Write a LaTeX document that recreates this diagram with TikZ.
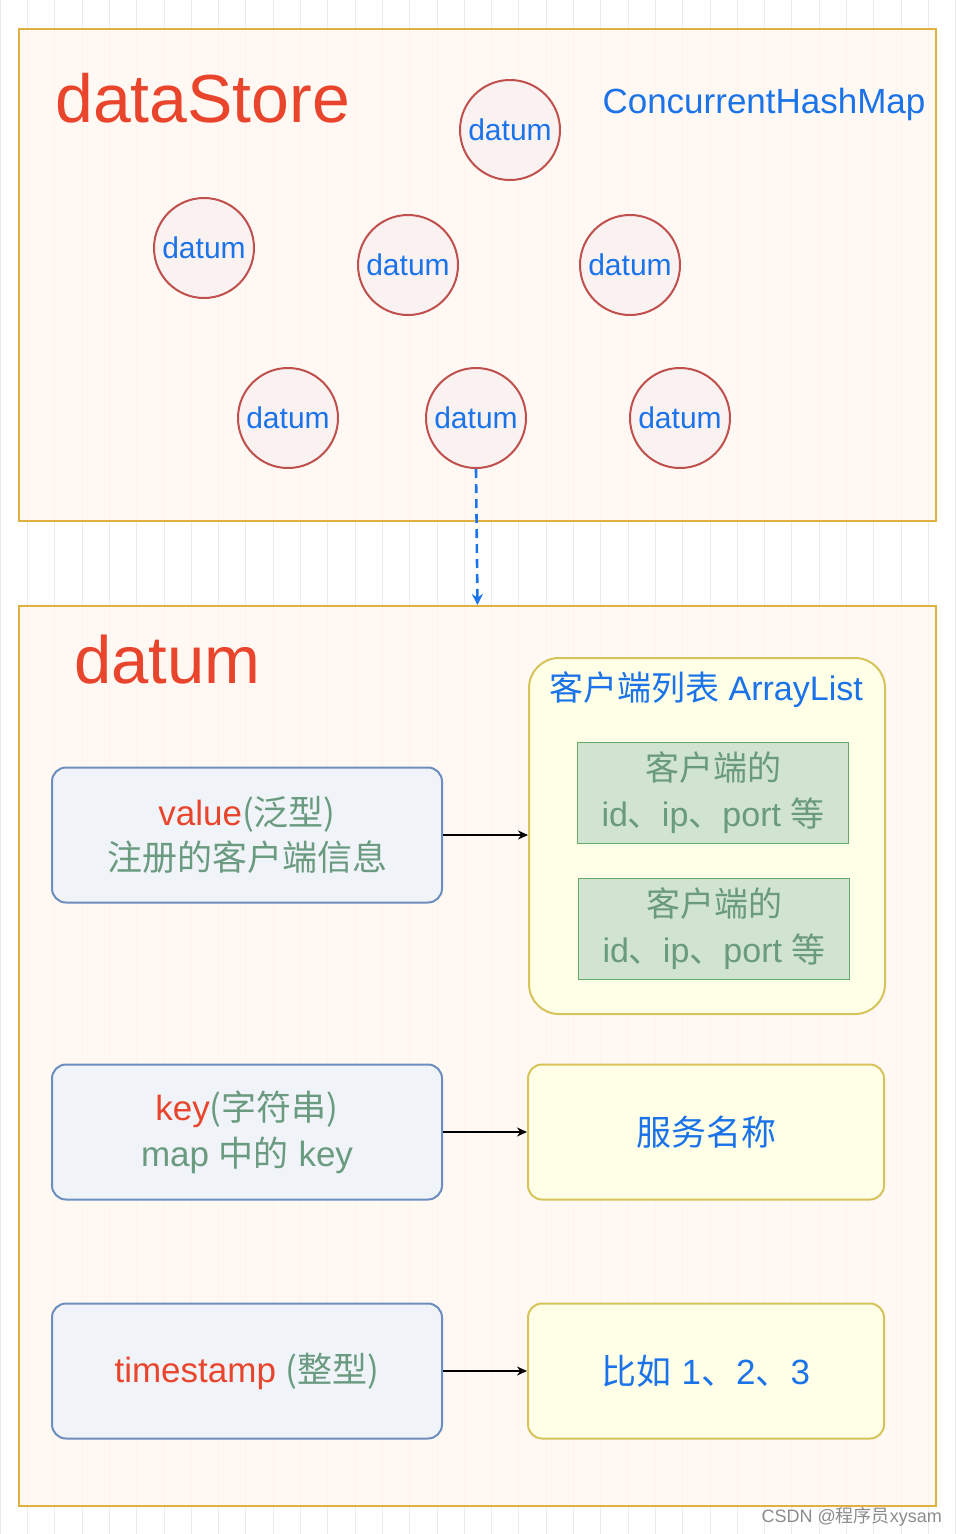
\documentclass[tikz,border=0pt]{standalone}
\usepackage{fontspec}
\setmainfont{Liberation Sans}
\newfontfamily\cjk{Noto Sans CJK SC}
\usetikzlibrary{arrows.meta}
\definecolor{redt}{HTML}{E8452C}
\definecolor{bluet}{HTML}{1A73E8}
\definecolor{greent}{HTML}{6A9A80}
\definecolor{circ}{HTML}{C0504D}
\definecolor{gold}{HTML}{E0B040}
\definecolor{ybord}{HTML}{D6C45A}
\definecolor{bbord}{HTML}{6C8EBF}
\tikzset{
 fs/.style={font=\fontsize{#1}{#1}\selectfont},
 dat/.style={circle,draw=circ,line width=2pt,fill=circ!8,minimum size=100pt,inner sep=0pt,text=bluet,fs=30},
 outer/.style={draw=gold,line width=2pt,fill=orange!6,fill opacity=0.8},
 lbox/.style={draw=bbord,line width=2pt,rounded corners=14pt,fill=bbord!10,minimum width=390pt,minimum height=135pt,align=center,text=greent,fs=35},
 ybox/.style={draw=ybord,line width=2pt,rounded corners=14pt,fill=yellow!10,minimum width=356pt,minimum height=135pt,align=center,text=bluet,fs=35},
 gbox/.style={draw=green!45!black!60,line width=1.6pt,fill=green!40!black!18,minimum width=271pt,minimum height=101pt,align=center,text=greent,fs=34},
 arr/.style={-{Stealth[open,length=10pt,width=9pt]},line width=1.6pt},
}
\begin{document}
\begin{tikzpicture}[x=1pt,y=-1pt]
\useasboundingbox (0,0) rectangle (956,1534);
\fill[white] (0,0) rectangle (956,1534);
\draw[black!8,line width=0.6pt,step=27.3] (0,0) grid (956,1534);
% top box
\node[outer,minimum width=917pt,minimum height=492pt,inner sep=0pt,anchor=north west] (store) at (18,28) {};
\node[anchor=west,text=redt,fs=68,inner sep=0pt] (tstore) at (55,98) {dataStore};
\node[text=bluet,fs=35,inner sep=0pt] (chm) at (764,104) {ConcurrentHashMap};
\node[dat] (d1) at (510,130) {datum};
\node[dat] (d2) at (204,248) {datum};
\node[dat] (d3) at (408,265) {datum};
\node[dat] (d4) at (630,265) {datum};
\node[dat] (d5) at (288,418) {datum};
\node[dat] (d6) at (476,418) {datum};
\node[dat] (d7) at (680,418) {datum};
% bottom box
\node[outer,minimum width=917pt,minimum height=900pt,inner sep=0pt,anchor=north west] (dbox) at (18,605) {};
\draw[bluet,line width=2.6pt,dash pattern=on 9pt off 6pt,-{Stealth[open,length=11pt,width=11pt]}] (d6.south) -- (dbox.north);
\node[anchor=west,text=redt,fs=67,inner sep=0pt] (tdat) at (74,660) {datum};
\node[draw=ybord,line width=2pt,rounded corners=30pt,fill=yellow!10,minimum width=356pt,minimum height=356pt,anchor=north west] (list) at (528,657) {};
\node[text=bluet,fs=34,inner sep=0pt] (ltitle) at (706,690) {{\cjk 客户端列表} ArrayList};
\node[gbox] (g1) at (713,793) {{\cjk 客户端的}\\[12pt]id{\cjk 、}ip{\cjk 、}port {\cjk 等}};
\node[gbox] (g2) at (714,929) {{\cjk 客户端的}\\[12pt]id{\cjk 、}ip{\cjk 、}port {\cjk 等}};
\node[lbox] (v) at (247,835) {\textcolor{redt}{value}{\cjk (泛型)}\\[8pt]{\cjk 注册的客户端信息}};
\node[lbox] (k) at (247,1132) {\textcolor{redt}{key}{\cjk (字符串)}\\[8pt]map {\cjk 中的} key};
\node[lbox] (t) at (247,1371) {\textcolor{redt}{timestamp} {\cjk (整型)}};
\node[ybox] (svc) at (706,1132) {\cjk 服务名称};
\node[ybox] (ex) at (706,1371) {{\cjk 比如} 1{\cjk 、}2{\cjk 、}3};
\draw[arr] (v.east) -- (list.west |- v.east);
\draw[arr] (k.east) -- (svc.west);
\draw[arr] (t.east) -- (ex.west);
\node[anchor=south east,text=black!45,fs=18,inner sep=2pt] (wm) at (944,1528) {CSDN @{\cjk 程序员}xysam};
\end{tikzpicture}
\end{document}
